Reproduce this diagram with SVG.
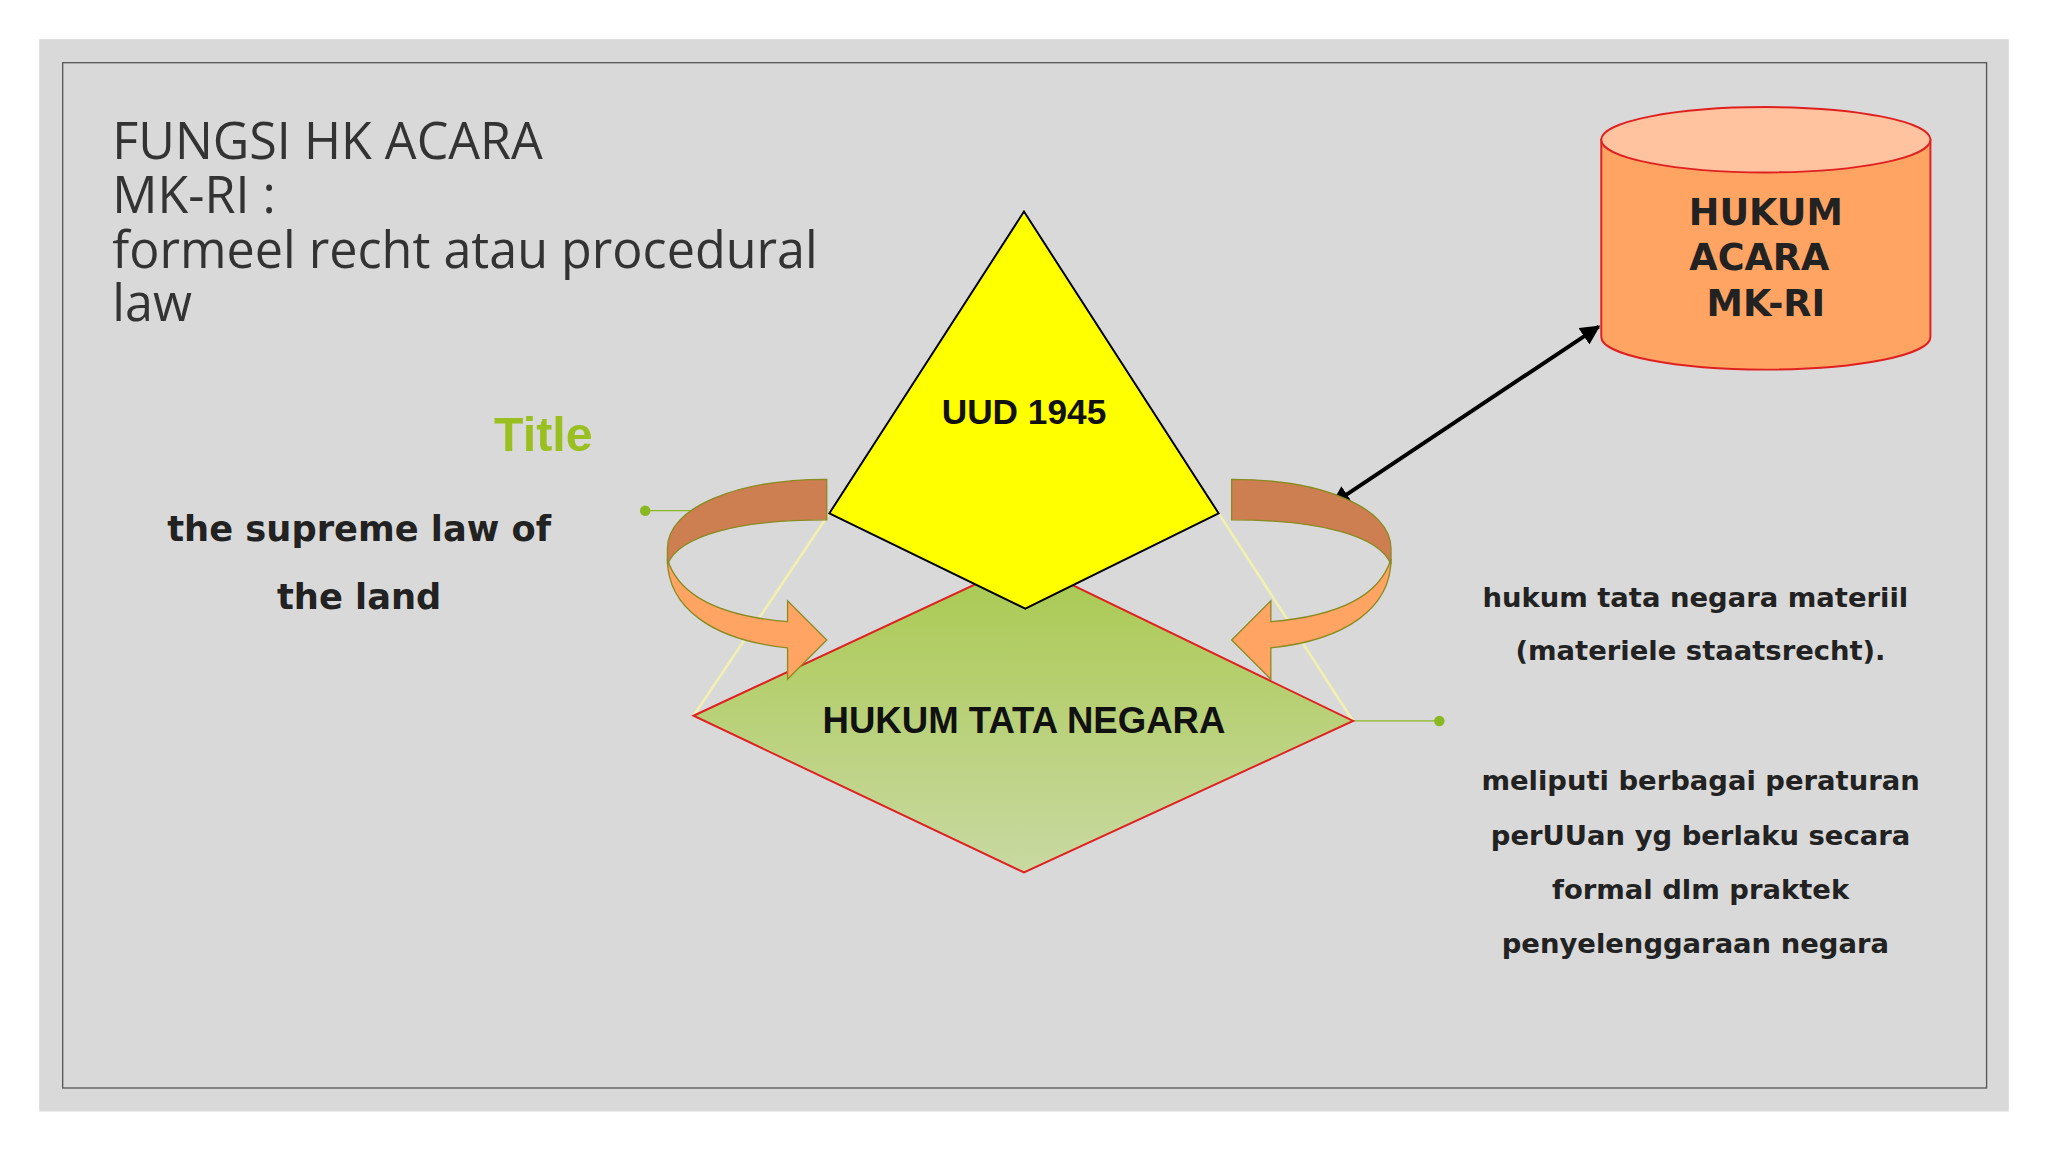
<svg xmlns="http://www.w3.org/2000/svg" width="2048" height="1152" viewBox="0 0 2048 1152">
<defs>
<linearGradient id="g" x1="0" y1="0" x2="0" y2="1"><stop offset="0" stop-color="#a9c94f"/><stop offset="1" stop-color="#c9d9a2"/></linearGradient>
<marker id="ah" viewBox="0 0 10 10" refX="9" refY="5" markerWidth="5" markerHeight="5" orient="auto-start-reverse"><path d="M0,0L10,5L0,10Z" fill="#000"/></marker>
<style>
.b{font-family:"Liberation Sans",Arial,sans-serif;font-weight:bold;fill:#111;text-anchor:middle}
.k{font-family:"DejaVu Sans","Liberation Sans",sans-serif;font-weight:bold;fill:#222;text-anchor:middle}
.brown{fill:#cd7f52;stroke:#8a8a20;stroke-width:1}
.orange{fill:#ffa463;stroke:#8a8a20;stroke-width:1}
</style>
</defs>
<rect width="2048" height="1152" fill="#fff"/>
<g transform="scale(1.3061)">
<rect x="30" y="30" width="1508" height="821" fill="#d9d9d9"/>
<rect x="48" y="48" width="1473" height="785" fill="none" stroke="#555" stroke-width="1"/>
<g id="heading" font-family="'Open Sans','Noto Sans',sans-serif" font-size="38.5" fill="#333">
<text x="86" y="122">FUNGSI HK ACARA</text><text x="86" y="163">MK-RI :</text><text x="86" y="205">formeel recht atau procedural</text><text x="86" y="246">law</text>
</g>
<g id="connectors">
<line x1="635" y1="393" x2="531" y2="548" stroke="#f0f0b0" stroke-width="2"/>
<line x1="933" y1="393" x2="1036" y2="552" stroke="#f0f0b0" stroke-width="2"/>
<line x1="494" y1="391" x2="532" y2="391" stroke="#8ab820" stroke-width="1"/>
<circle cx="494" cy="391" r="4" fill="#8ab820"/>
<line x1="1036" y1="552" x2="1102" y2="552" stroke="#8ab820" stroke-width="1"/>
<circle cx="1102" cy="552" r="4" fill="#8ab820"/>
<line x1="1020" y1="386" x2="1224" y2="250" stroke="#000" stroke-width="3" marker-start="url(#ah)" marker-end="url(#ah)"/>
</g>
<g id="diamond">
<path d="M531,548 L784,430 L1036,552 L784,668 Z" fill="url(#g)" stroke="#e02020" stroke-width="1.5"/>
<text class="b" x="784" y="561" font-size="28">HUKUM TATA NEGARA</text>
</g>
<g id="leftArrow">
<path class="orange" d="M511,428 C511,465 545,490 603,496 L603,520 L633,490 L603,460 L603,476 C555,472 520,458 511,428 Z"/>
<path class="brown" d="M633,367 L633,398 C565,398 520,410 511,432 L511,420 C511,388 565,367 633,367 Z"/>
</g>
<g id="rightArrow" transform="translate(1576,0) scale(-1,1)">
<path class="orange" d="M511,428 C511,465 545,490 603,496 L603,520 L633,490 L603,460 L603,476 C555,472 520,458 511,428 Z"/>
<path class="brown" d="M633,367 L633,398 C565,398 520,410 511,432 L511,420 C511,388 565,367 633,367 Z"/>
</g>
<g id="pyramid">
<path d="M784,162 L635,393 L785,466 L933,393 Z" fill="#ffff00" stroke="#000" stroke-width="1.5"/>
<text class="b" x="784" y="325" font-size="27">UUD 1945</text>
</g>
<g id="cylinder">
<path d="M1226,107 L1226,258 A126,25 0 0 0 1478,258 L1478,107 Z" fill="#ffa463" stroke="#e02020" stroke-width="1.5"/>
<ellipse cx="1352" cy="107" rx="126" ry="25" fill="#ffc39f" stroke="#e02020" stroke-width="1.5"/>
<text class="k" x="1352" y="172" font-size="28">HUKUM</text>
<text class="k" x="1347" y="207" font-size="28">ACARA</text>
<text class="k" x="1352" y="242" font-size="28">MK-RI</text>
</g>
<g id="labels">
<text x="416" y="345" font-family="'Liberation Sans',sans-serif" font-weight="bold" font-size="37" fill="#99c020" text-anchor="middle">Title</text>
<text class="k" x="275" y="414" font-size="27">the supreme law of</text>
<text class="k" x="275" y="466" font-size="27">the land</text>
<text class="k" x="1298" y="465" font-size="21">hukum tata negara materiil</text>
<text class="k" x="1302" y="505" font-size="21">(materiele staatsrecht).</text>
<text class="k" x="1302" y="605" font-size="21">meliputi berbagai peraturan</text>
<text class="k" x="1302" y="647" font-size="21">perUUan yg berlaku secara</text>
<text class="k" x="1302" y="688" font-size="21">formal dlm praktek</text>
<text class="k" x="1298" y="730" font-size="21">penyelenggaraan negara</text>
</g>
</g>
</svg>
